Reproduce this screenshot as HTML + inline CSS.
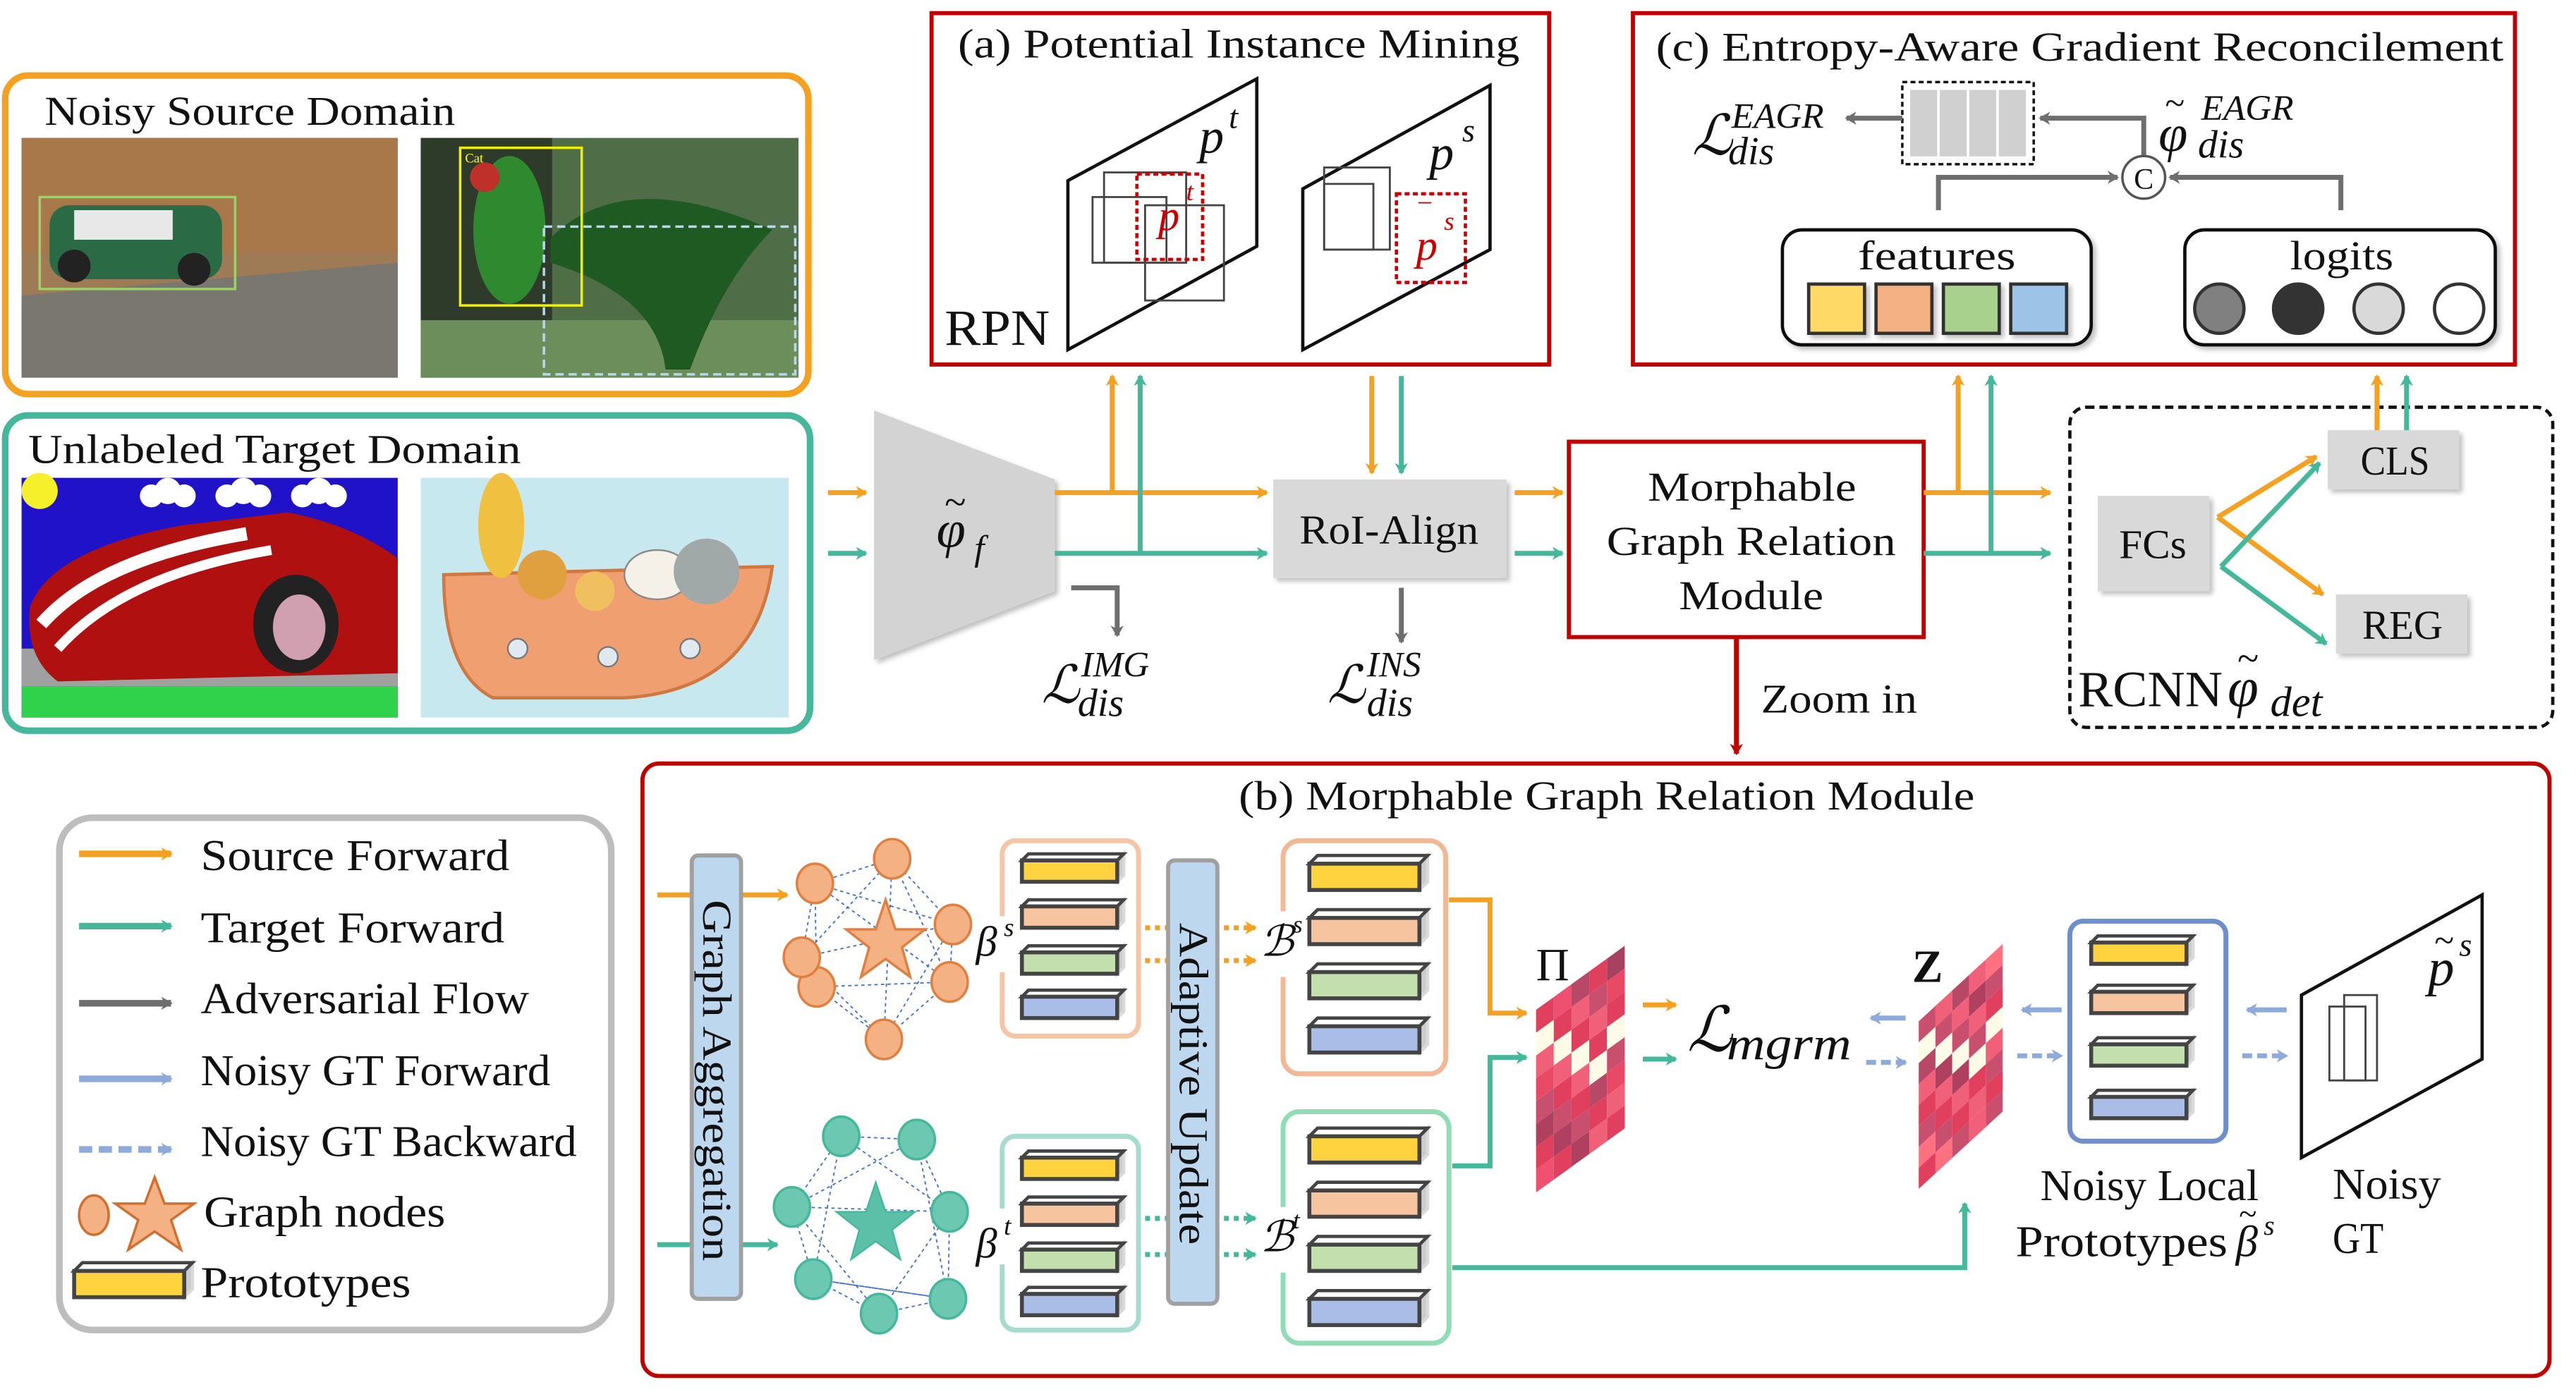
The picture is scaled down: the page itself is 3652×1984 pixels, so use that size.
<!DOCTYPE html>
<html><head><meta charset="utf-8"><style>
html,body{margin:0;padding:0;background:#fff;}
svg{display:block;}
text{font-family:"Liberation Serif",serif;fill:#111;}
.it{font-style:italic;}
</style></head><body>
<svg width="3652" height="1984" viewBox="0 0 1568 852" xmlns="http://www.w3.org/2000/svg">
<defs>
<marker id="ao" markerWidth="8" markerHeight="8" refX="6" refY="4" orient="auto" markerUnits="userSpaceOnUse" viewBox="0 0 8 8"><path d="M0,0 L7,4 L0,8 L2,4z" fill="#f4a020"/></marker>
<marker id="at" markerWidth="8" markerHeight="8" refX="6" refY="4" orient="auto" markerUnits="userSpaceOnUse" viewBox="0 0 8 8"><path d="M0,0 L7,4 L0,8 L2,4z" fill="#45b89c"/></marker>
<marker id="ag" markerWidth="8" markerHeight="8" refX="6" refY="4" orient="auto" markerUnits="userSpaceOnUse" viewBox="0 0 8 8"><path d="M0,0 L7,4 L0,8 L2,4z" fill="#6e6e6e"/></marker>
<marker id="ab" markerWidth="8" markerHeight="8" refX="6" refY="4" orient="auto" markerUnits="userSpaceOnUse" viewBox="0 0 8 8"><path d="M0,0 L7,4 L0,8 L2,4z" fill="#8eaadb"/></marker>
<marker id="ar" markerWidth="8" markerHeight="8" refX="6" refY="4" orient="auto" markerUnits="userSpaceOnUse" viewBox="0 0 8 8"><path d="M0,0 L7,4 L0,8 L2,4z" fill="#c00000"/></marker>
<g id="proto">
<polygon points="0,4 4,0 62,0 58,4" fill="#fff" opacity="0.35"/>
<polygon points="0,4 4,0 62,0 58,4" stroke="#444" stroke-width="2" fill="none"/>
<rect x="0" y="4" width="58" height="13" stroke="#444" stroke-width="2.4"/>
<polygon points="58,4 62,0 62,13 58,17" fill="#000" opacity="0.2" stroke="#444" stroke-width="2"/>
</g>
<g id="protoB">
<polygon points="0,5 5,0 72,0 67,5" fill="#fff" opacity="0.35"/>
<polygon points="0,5 5,0 72,0 67,5" stroke="#444" stroke-width="2" fill="none"/>
<rect x="0" y="5" width="67" height="16" stroke="#444" stroke-width="2.4"/>
<polygon points="67,5 72,0 72,16 67,21" fill="#000" opacity="0.2" stroke="#444" stroke-width="2"/>
</g>
<filter id="sh" x="-10%" y="-10%" width="130%" height="130%"><feDropShadow dx="2" dy="2" stdDeviation="1.5" flood-color="#000" flood-opacity="0.25"/></filter>
</defs>

<!-- Noisy Source Domain -->
<rect x="3" y="46" width="489" height="194" rx="14" fill="#fff" stroke="#f4a020" stroke-width="4"/>
<text x="27" y="76" font-size="25" textLength="250" lengthAdjust="spacingAndGlyphs">Noisy Source Domain</text>
<rect x="13" y="84" width="229" height="146" fill="#9e7a55"/>
<rect x="13" y="84" width="229" height="70" fill="#a8784a"/>
<polygon points="13,180 242,160 242,230 13,230" fill="#7a7670"/>
<rect x="30" y="125" width="105" height="45" rx="12" fill="#2a6a45"/>
<rect x="45" y="128" width="60" height="18" fill="#e8e8e8"/>
<circle cx="45" cy="162" r="10" fill="#222"/><circle cx="118" cy="164" r="10" fill="#222"/>
<rect x="24" y="120" width="119" height="56" fill="none" stroke="#9ecf6a" stroke-width="1.5"/>
<rect x="256" y="84" width="230" height="146" fill="#4f6e48"/>
<rect x="256" y="84" width="80" height="146" fill="#2e3a2a"/>
<rect x="256" y="195" width="230" height="35" fill="#6c8e5a"/>
<ellipse cx="310" cy="140" rx="22" ry="45" fill="#2f8a2f"/>
<circle cx="295" cy="108" r="9" fill="#c0302a"/>
<path d="M335,145 Q380,100 470,140 Q440,170 420,225 L405,225 Q400,180 335,160z" fill="#1f5a22"/>
<rect x="280" y="90" width="74" height="96" fill="none" stroke="#f0f000" stroke-width="1.5"/>
<rect x="331" y="138" width="153" height="90" fill="none" stroke="#b8d8e8" stroke-width="1.5" stroke-dasharray="5,3"/>
<text x="283" y="99" font-size="8" style="fill:#ff0">Cat</text>

<!-- Unlabeled Target Domain -->
<rect x="3" y="253" width="490" height="192" rx="14" fill="#fff" stroke="#45b89c" stroke-width="4"/>
<text x="17" y="282" font-size="25" textLength="300" lengthAdjust="spacingAndGlyphs">Unlabeled Target Domain</text>
<rect x="13" y="291" width="229" height="146" fill="#1f12c8"/>
<rect x="13" y="418" width="229" height="19" fill="#2fd24a"/>
<rect x="13" y="395" width="229" height="23" fill="#a0a0a0"/>
<circle cx="24" cy="299" r="11" fill="#f6f02a"/>
<g fill="#fff"><circle cx="92" cy="302" r="7"/><circle cx="102" cy="299" r="8"/><circle cx="112" cy="302" r="7"/><circle cx="138" cy="302" r="7"/><circle cx="148" cy="299" r="8"/><circle cx="158" cy="302" r="7"/><circle cx="184" cy="302" r="7"/><circle cx="194" cy="299" r="8"/><circle cx="204" cy="302" r="7"/></g>
<path d="M18,370 Q30,335 110,320 L175,312 Q215,320 242,340 L242,410 L35,415 Q15,400 18,370z" fill="#b01010"/>
<path d="M25,380 Q60,340 150,325" stroke="#fff" stroke-width="8" fill="none"/>
<path d="M35,395 Q75,350 165,335" stroke="#fff" stroke-width="6" fill="none"/>
<ellipse cx="180" cy="380" rx="26" ry="30" fill="#222"/><ellipse cx="182" cy="382" rx="16" ry="20" fill="#d0a0b0"/>
<rect x="256" y="291" width="224" height="146" fill="#c8e8f0"/>
<path d="M270,350 L470,345 Q460,420 380,425 L300,425 Q270,410 270,350z" fill="#f0a070" stroke="#d07840" stroke-width="2"/>
<ellipse cx="305" cy="320" rx="14" ry="32" fill="#f0c040"/>
<circle cx="330" cy="350" r="15" fill="#e0a040"/><circle cx="362" cy="360" r="12" fill="#f0c060"/>
<ellipse cx="400" cy="350" rx="20" ry="15" fill="#f5f0e8" stroke="#888"/>
<ellipse cx="430" cy="348" rx="20" ry="20" fill="#a0a8a8"/>
<g fill="#e0e8f0" stroke="#777"><circle cx="315" cy="395" r="6"/><circle cx="370" cy="400" r="6"/><circle cx="420" cy="395" r="6"/></g>

<!-- input arrows -->
<line x1="504" y1="300" x2="527" y2="300" stroke="#f4a020" stroke-width="3" marker-end="url(#ao)"/>
<line x1="504" y1="337" x2="527" y2="337" stroke="#45b89c" stroke-width="3" marker-end="url(#at)"/>

<!-- encoder -->
<polygon points="532,250 642,292 642,360 532,402" fill="#d3d3d3" filter="url(#sh)"/>
<text x="570" y="333" font-size="32" class="it">φ</text><text x="575" y="314" font-size="24">~</text><text x="593" y="341" font-size="22" class="it">f</text>

<!-- lines to RoI -->
<line x1="642" y1="300" x2="771" y2="300" stroke="#f4a020" stroke-width="3" marker-end="url(#ao)"/>
<line x1="642" y1="337" x2="771" y2="337" stroke="#45b89c" stroke-width="3" marker-end="url(#at)"/>
<line x1="677" y1="300" x2="677" y2="229" stroke="#f4a020" stroke-width="3" marker-end="url(#ao)"/>
<line x1="694" y1="337" x2="694" y2="229" stroke="#45b89c" stroke-width="3" marker-end="url(#at)"/>
<polyline points="652,358 680,358 680,387" fill="none" stroke="#6e6e6e" stroke-width="3" marker-end="url(#ag)"/>
<text x="634" y="428" font-size="32" class="it">ℒ</text><text x="658" y="412" font-size="22" class="it">IMG</text><text x="656" y="436" font-size="24" class="it">dis</text>

<!-- panel a -->
<rect x="567" y="8" width="376" height="214" fill="#fff" stroke="#c00000" stroke-width="2.5"/>
<text x="583" y="35" font-size="25" textLength="342" lengthAdjust="spacingAndGlyphs">(a) Potential Instance Mining</text>
<text x="575" y="210" font-size="31" textLength="64" lengthAdjust="spacingAndGlyphs">RPN</text>
<polygon points="650,213 650,110 765,48 765,150" fill="#fff" stroke="#111" stroke-width="2"/>
<rect x="672" y="105" width="50" height="55" fill="none" stroke="#444" stroke-width="1.2"/>
<rect x="697" y="125" width="48" height="58" fill="none" stroke="#444" stroke-width="1.2"/>
<rect x="665" y="120" width="45" height="40" fill="none" stroke="#444" stroke-width="1.2"/>
<rect x="692" y="106" width="40" height="52" fill="none" stroke="#cc0000" stroke-width="2" stroke-dasharray="3,2"/>
<text x="705" y="140" font-size="26" class="it" style="fill:#cc0000">p</text><text x="707" y="121" font-size="20" style="fill:#cc0000">‾</text><text x="722" y="122" font-size="16" class="it" style="fill:#cc0000">t</text>
<text x="730" y="93" font-size="30" class="it">p</text><text x="748" y="78" font-size="20" class="it">t</text>
<polygon points="793,213 793,115 907,52 907,152" fill="#fff" stroke="#111" stroke-width="2"/>
<rect x="806" y="102" width="40" height="50" fill="none" stroke="#444" stroke-width="1.2"/>
<rect x="806" y="112" width="30" height="40" fill="none" stroke="#444" stroke-width="1.2"/>
<rect x="850" y="118" width="42" height="54" fill="none" stroke="#cc0000" stroke-width="2" stroke-dasharray="3,2"/>
<text x="862" y="158" font-size="26" class="it" style="fill:#cc0000">p</text><text x="864" y="139" font-size="20" style="fill:#cc0000">‾</text><text x="879" y="140" font-size="16" class="it" style="fill:#cc0000">s</text>
<text x="870" y="103" font-size="30" class="it">p</text><text x="890" y="86" font-size="20" class="it">s</text>

<line x1="835" y1="229" x2="835" y2="288" stroke="#f4a020" stroke-width="3" marker-end="url(#ao)"/>
<line x1="853" y1="229" x2="853" y2="288" stroke="#45b89c" stroke-width="3" marker-end="url(#at)"/>

<!-- RoI Align -->
<rect x="775" y="292" width="142" height="60" fill="#d9d9d9" filter="url(#sh)"/>
<text x="791" y="331" font-size="25" textLength="109" lengthAdjust="spacingAndGlyphs">RoI-Align</text>
<line x1="853" y1="358" x2="853" y2="391" stroke="#6e6e6e" stroke-width="3" marker-end="url(#ag)"/>
<text x="808" y="428" font-size="32" class="it">ℒ</text><text x="832" y="412" font-size="22" class="it">INS</text><text x="832" y="436" font-size="24" class="it">dis</text>

<line x1="922" y1="300" x2="951" y2="300" stroke="#f4a020" stroke-width="3" marker-end="url(#ao)"/>
<line x1="922" y1="337" x2="951" y2="337" stroke="#45b89c" stroke-width="3" marker-end="url(#at)"/>

<!-- MGRM -->
<rect x="955" y="269" width="216" height="119" fill="#fff" stroke="#c00000" stroke-width="2.5"/>
<text x="1003" y="305" font-size="25" textLength="127" lengthAdjust="spacingAndGlyphs">Morphable</text>
<text x="978" y="338" font-size="25" textLength="176" lengthAdjust="spacingAndGlyphs">Graph Relation</text>
<text x="1022" y="371" font-size="25" textLength="88" lengthAdjust="spacingAndGlyphs">Module</text>
<line x1="1057" y1="388" x2="1057" y2="459" stroke="#c00000" stroke-width="3" marker-end="url(#ar)"/>
<text x="1072" y="434" font-size="25" textLength="95" lengthAdjust="spacingAndGlyphs">Zoom in</text>

<line x1="1171" y1="300" x2="1248" y2="300" stroke="#f4a020" stroke-width="3" marker-end="url(#ao)"/>
<line x1="1171" y1="337" x2="1248" y2="337" stroke="#45b89c" stroke-width="3" marker-end="url(#at)"/>
<line x1="1192" y1="300" x2="1192" y2="229" stroke="#f4a020" stroke-width="3" marker-end="url(#ao)"/>
<line x1="1212" y1="337" x2="1212" y2="229" stroke="#45b89c" stroke-width="3" marker-end="url(#at)"/>

<!-- panel c -->
<rect x="994" y="8" width="537" height="214" fill="#fff" stroke="#c00000" stroke-width="2.5"/>
<text x="1008" y="37" font-size="25" textLength="516" lengthAdjust="spacingAndGlyphs">(c) Entropy-Aware  Gradient Reconcilement</text>
<rect x="1158" y="50" width="80" height="50" fill="#fff" stroke="#111" stroke-width="1.5" stroke-dasharray="3,2"/>
<g fill="#d0d0d0" stroke="#fff" stroke-width="1.5"><rect x="1162" y="54" width="18" height="42"/><rect x="1180" y="54" width="18" height="42"/><rect x="1198" y="54" width="18" height="42"/><rect x="1216" y="54" width="18" height="42"/></g>
<line x1="1158" y1="72" x2="1124" y2="72" stroke="#6e6e6e" stroke-width="3" marker-end="url(#ag)"/>
<text x="1030" y="94" font-size="34" class="it">ℒ</text><text x="1054" y="78" font-size="22" class="it">EAGR</text><text x="1052" y="100" font-size="24" class="it">dis</text>
<polyline points="1305,95 1305,72 1242,72" fill="none" stroke="#6e6e6e" stroke-width="3" marker-end="url(#ag)"/>
<circle cx="1305" cy="108" r="13" fill="#fff" stroke="#555" stroke-width="1.5"/>
<text x="1305" y="115" font-size="18" text-anchor="middle" font-family="Liberation Sans">C</text>
<text x="1314" y="92" font-size="32" class="it">φ</text><text x="1318" y="70" font-size="22">~</text><text x="1340" y="73" font-size="22" class="it">EAGR</text><text x="1338" y="96" font-size="24" class="it">dis</text>
<polyline points="1180,128 1180,108 1289,108" fill="none" stroke="#6e6e6e" stroke-width="3" marker-end="url(#ag)"/>
<polyline points="1425,128 1425,108 1321,108" fill="none" stroke="#6e6e6e" stroke-width="3" marker-end="url(#ag)"/>
<rect x="1085" y="140" width="188" height="70" rx="12" fill="#fff" stroke="#111" stroke-width="2" filter="url(#sh)"/>
<text x="1131" y="164" font-size="25" textLength="96" lengthAdjust="spacingAndGlyphs">features</text>
<g stroke="#333" stroke-width="2" filter="url(#sh)"><rect x="1101" y="173" width="34" height="30" fill="#ffd966"/><rect x="1142" y="173" width="34" height="30" fill="#f4b183"/><rect x="1183" y="173" width="34" height="30" fill="#a9d18e"/><rect x="1224" y="173" width="34" height="30" fill="#9dc3e6"/></g>
<rect x="1330" y="140" width="189" height="70" rx="12" fill="#fff" stroke="#111" stroke-width="2" filter="url(#sh)"/>
<text x="1394" y="164" font-size="25" textLength="63" lengthAdjust="spacingAndGlyphs">logits</text>
<g stroke="#333" stroke-width="2"><circle cx="1351" cy="188" r="15" fill="#808080"/><circle cx="1399" cy="188" r="15" fill="#333"/><circle cx="1448" cy="188" r="15" fill="#d9d9d9"/><circle cx="1497" cy="188" r="15" fill="#fff"/></g>

<!-- RCNN -->
<rect x="1260" y="248" width="294" height="195" rx="10" fill="#fff" stroke="#111" stroke-width="2" stroke-dasharray="5,3"/>
<rect x="1277" y="302" width="68" height="58" fill="#d9d9d9" filter="url(#sh)"/>
<text x="1290" y="340" font-size="25" textLength="41" lengthAdjust="spacingAndGlyphs">FCs</text>
<rect x="1417" y="262" width="80" height="36" fill="#d9d9d9" filter="url(#sh)"/>
<text x="1437" y="289" font-size="25" textLength="42" lengthAdjust="spacingAndGlyphs">CLS</text>
<rect x="1422" y="362" width="80" height="36" fill="#d9d9d9" filter="url(#sh)"/>
<text x="1438" y="389" font-size="25" textLength="49" lengthAdjust="spacingAndGlyphs">REG</text>
<line x1="1350" y1="315" x2="1410" y2="278" stroke="#f4a020" stroke-width="3" marker-end="url(#ao)"/>
<line x1="1350" y1="315" x2="1414" y2="362" stroke="#f4a020" stroke-width="3" marker-end="url(#ao)"/>
<line x1="1352" y1="345" x2="1412" y2="282" stroke="#45b89c" stroke-width="3" marker-end="url(#at)"/>
<line x1="1352" y1="345" x2="1416" y2="392" stroke="#45b89c" stroke-width="3" marker-end="url(#at)"/>
<line x1="1447" y1="262" x2="1447" y2="229" stroke="#f4a020" stroke-width="3" marker-end="url(#ao)"/>
<line x1="1465" y1="262" x2="1465" y2="229" stroke="#45b89c" stroke-width="3" marker-end="url(#at)"/>
<text x="1265" y="430" font-size="31" textLength="88" lengthAdjust="spacingAndGlyphs">RCNN</text>
<text x="1356" y="430" font-size="34" class="it">φ</text><text x="1362" y="409" font-size="24">~</text><text x="1382" y="436" font-size="26" class="it">det</text>

<!-- panel b -->
<rect x="391" y="465" width="1161" height="373" rx="10" fill="#fff" stroke="#c00000" stroke-width="2.5"/>
<text x="754" y="493" font-size="25" textLength="448" lengthAdjust="spacingAndGlyphs">(b) Morphable Graph Relation Module</text>

<!-- legend -->
<rect x="36" y="498" width="336" height="312" rx="20" fill="#fff" stroke="#bdbdbd" stroke-width="4"/>
<line x1="48" y1="520" x2="104" y2="520" stroke="#f4a020" stroke-width="4" marker-end="url(#ao)"/>
<line x1="48" y1="564" x2="104" y2="564" stroke="#45b89c" stroke-width="4" marker-end="url(#at)"/>
<line x1="48" y1="611" x2="104" y2="611" stroke="#6e6e6e" stroke-width="4" marker-end="url(#ag)"/>
<line x1="48" y1="657" x2="104" y2="657" stroke="#8eaadb" stroke-width="4" marker-end="url(#ab)"/>
<line x1="48" y1="700" x2="104" y2="700" stroke="#8eaadb" stroke-width="4" stroke-dasharray="8,4" marker-end="url(#ab)"/>
<g font-size="27">
<text x="122" y="530" textLength="188" lengthAdjust="spacingAndGlyphs">Source Forward</text>
<text x="122" y="574" textLength="185" lengthAdjust="spacingAndGlyphs">Target Forward</text>
<text x="122" y="617" textLength="200" lengthAdjust="spacingAndGlyphs">Adversarial Flow</text>
<text x="122" y="661" textLength="213" lengthAdjust="spacingAndGlyphs">Noisy GT Forward</text>
<text x="122" y="704" textLength="229" lengthAdjust="spacingAndGlyphs">Noisy GT Backward</text>
<text x="124" y="747" textLength="147" lengthAdjust="spacingAndGlyphs">Graph nodes</text>
<text x="122" y="790" textLength="128" lengthAdjust="spacingAndGlyphs">Prototypes</text>
</g>
<ellipse cx="57" cy="740" rx="9" ry="12" fill="#f4b183" stroke="#d07030" stroke-width="1.5"/>
<polygon points="94,717 100,733 118,733 104,743 110,761 94,750 78,761 84,743 70,733 88,733" fill="#f4b183" stroke="#d07030" stroke-width="1.5"/>
<use href="#protoB" x="45" y="769" fill="#ffd23f"/>

<!-- graph aggregation bar -->
<line x1="400" y1="545" x2="479" y2="545" stroke="#f4a020" stroke-width="3" marker-end="url(#ao)"/>
<line x1="400" y1="758" x2="473" y2="758" stroke="#45b89c" stroke-width="3" marker-end="url(#at)"/>
<rect x="421" y="521" width="30" height="270" rx="4" fill="#bdd7ee" stroke="#a0a0a0" stroke-width="2.5"/>
<text transform="translate(428,548) rotate(90)" font-size="25" textLength="220" lengthAdjust="spacingAndGlyphs">Graph Aggregation</text>

<!-- source graph -->
<g stroke="#4472c4" stroke-width="0.8" stroke-dasharray="2,2" fill="none">
<path d="M496,538 L543,523 L580,563 L578,598 L538,633 L497,601 L488,583 Z M496,538 L580,563 L538,633 L488,583 L543,523 L578,598 L497,601 L496,538 M543,523 L538,633 M488,583 L580,563 M496,538 L578,598"/>
</g>
<g fill="#f4b183" stroke="#e08040" stroke-width="1.5">
<ellipse cx="496" cy="538" rx="11" ry="12"/><ellipse cx="543" cy="523" rx="11" ry="12"/><ellipse cx="580" cy="563" rx="11" ry="12"/><ellipse cx="578" cy="598" rx="11" ry="12"/><ellipse cx="538" cy="633" rx="11" ry="12"/><ellipse cx="497" cy="601" rx="11" ry="12"/><ellipse cx="488" cy="583" rx="11" ry="12"/>
</g>
<polygon points="539,548 545,566 563,566 549,577 554,595 539,584 524,595 529,577 515,566 533,566" fill="#f4b183" stroke="#e08040" stroke-width="1.5"/>
<!-- target graph -->
<g stroke="#4472c4" stroke-width="0.8" stroke-dasharray="2,2" fill="none">
<path d="M512,692 L558,694 L578,738 L577,791 L535,800 L495,779 L482,735 Z M512,692 L578,738 L535,800 L482,735 L558,694 L577,791 L495,779 L512,692 M495,779 L577,791 M482,735 L578,738"/>
</g>
<g fill="#6cc8b0" stroke="#45b89c" stroke-width="1.5">
<ellipse cx="512" cy="692" rx="11" ry="12"/><ellipse cx="558" cy="694" rx="11" ry="12"/><ellipse cx="578" cy="738" rx="11" ry="12"/><ellipse cx="577" cy="791" rx="11" ry="12"/><ellipse cx="535" cy="800" rx="11" ry="12"/><ellipse cx="495" cy="779" rx="11" ry="12"/><ellipse cx="482" cy="735" rx="11" ry="12"/>
</g>
<polygon points="533,720 539,738 557,738 543,749 548,767 533,756 518,767 523,749 509,738 527,738" fill="#5cc0a8" stroke="#45b89c" stroke-width="1"/>

<!-- small proto boxes -->
<rect x="610" y="512" width="83" height="119" rx="8" fill="#fff" stroke="#f4c6a6" stroke-width="3"/>
<rect x="596" y="558" width="22" height="34" fill="#fff"/>
<text x="594" y="582" font-size="26" class="it">β</text><text x="611" y="570" font-size="16" class="it">s</text>
<use href="#proto" x="622" y="520" fill="#ffd23f"/>
<use href="#proto" x="622" y="548" fill="#f7c4a0"/>
<use href="#proto" x="622" y="576" fill="#c2dfad"/>
<use href="#proto" x="622" y="603" fill="#a9bde6"/>
<rect x="610" y="692" width="83" height="118" rx="8" fill="#fff" stroke="#a6dccd" stroke-width="3"/>
<rect x="596" y="736" width="22" height="34" fill="#fff"/>
<text x="594" y="766" font-size="26" class="it">β</text><text x="611" y="752" font-size="16" class="it">t</text>
<use href="#proto" x="622" y="701" fill="#ffd23f"/>
<use href="#proto" x="622" y="729" fill="#f7c4a0"/>
<use href="#proto" x="622" y="757" fill="#c2dfad"/>
<use href="#proto" x="622" y="784" fill="#a9bde6"/>

<!-- dotted arrows -->
<g stroke-width="3" stroke-dasharray="3,3">
<line x1="697" y1="565" x2="764" y2="565" stroke="#f4a020" marker-end="url(#ao)"/>
<line x1="697" y1="585" x2="764" y2="585" stroke="#f4a020" marker-end="url(#ao)"/>
<line x1="697" y1="742" x2="764" y2="742" stroke="#45b89c" marker-end="url(#at)"/>
<line x1="697" y1="764" x2="764" y2="764" stroke="#45b89c" marker-end="url(#at)"/>
</g>
<rect x="711" y="524" width="30" height="270" rx="4" fill="#bdd7ee" stroke="#a0a0a0" stroke-width="2.5"/>
<text transform="translate(718,562) rotate(90)" font-size="25" textLength="196" lengthAdjust="spacingAndGlyphs">Adaptive Update</text>

<!-- big proto boxes -->
<rect x="781" y="512" width="99" height="142" rx="10" fill="#fff" stroke="#f0b896" stroke-width="3"/>
<rect x="766" y="555" width="24" height="40" fill="#fff"/>
<text x="767" y="582" font-size="26" class="it">ℬ</text><text x="787" y="568" font-size="15" class="it">s</text>
<use href="#protoB" x="797" y="521" fill="#ffd23f"/>
<use href="#protoB" x="797" y="554" fill="#f7c4a0"/>
<use href="#protoB" x="797" y="587" fill="#c2dfad"/>
<use href="#protoB" x="797" y="620" fill="#a9bde6"/>
<rect x="781" y="677" width="101" height="141" rx="10" fill="#fff" stroke="#90dcb6" stroke-width="3"/>
<rect x="766" y="735" width="24" height="40" fill="#fff"/>
<text x="767" y="762" font-size="26" class="it">ℬ</text><text x="787" y="748" font-size="15" class="it">t</text>
<use href="#protoB" x="797" y="687" fill="#ffd23f"/>
<use href="#protoB" x="797" y="720" fill="#f7c4a0"/>
<use href="#protoB" x="797" y="753" fill="#c2dfad"/>
<use href="#protoB" x="797" y="786" fill="#a9bde6"/>

<polyline points="882,548 907,548 907,617 929,617" fill="none" stroke="#f4a020" stroke-width="3" marker-end="url(#ao)"/>
<polyline points="884,710 907,710 907,644 929,644" fill="none" stroke="#45b89c" stroke-width="3" marker-end="url(#at)"/>
<polyline points="884,772 1196,772 1196,733" fill="none" stroke="#45b89c" stroke-width="3" marker-end="url(#at)"/>

<!-- heatmap Pi -->
<g transform="matrix(10.8,-7.8,0,13.9,935,615)" stroke="none">
<rect x="0" y="0" width="1" height="1" fill="#e0405e"/><rect x="1" y="0" width="1" height="1" fill="#f05070"/><rect x="2" y="0" width="1" height="1" fill="#b84868"/><rect x="3" y="0" width="1" height="1" fill="#e0405e"/><rect x="4" y="0" width="1" height="1" fill="#a84060"/>
<rect x="0" y="1" width="1" height="1" fill="#fffbe8"/><rect x="1" y="1" width="1" height="1" fill="#e0405e"/><rect x="2" y="1" width="1" height="1" fill="#f06078"/><rect x="3" y="1" width="1" height="1" fill="#c8506e"/><rect x="4" y="1" width="1" height="1" fill="#e84a66"/>
<rect x="0" y="2" width="1" height="1" fill="#f06078"/><rect x="1" y="2" width="1" height="1" fill="#fffbe8"/><rect x="2" y="2" width="1" height="1" fill="#e0405e"/><rect x="3" y="2" width="1" height="1" fill="#f06078"/><rect x="4" y="2" width="1" height="1" fill="#e0405e"/>
<rect x="0" y="3" width="1" height="1" fill="#e84a66"/><rect x="1" y="3" width="1" height="1" fill="#f06078"/><rect x="2" y="3" width="1" height="1" fill="#fffbe8"/><rect x="3" y="3" width="1" height="1" fill="#e0405e"/><rect x="4" y="3" width="1" height="1" fill="#fffbe8"/>
<rect x="0" y="4" width="1" height="1" fill="#c8506e"/><rect x="1" y="4" width="1" height="1" fill="#e0405e"/><rect x="2" y="4" width="1" height="1" fill="#f06078"/><rect x="3" y="4" width="1" height="1" fill="#fffbe8"/><rect x="4" y="4" width="1" height="1" fill="#c8506e"/>
<rect x="0" y="5" width="1" height="1" fill="#b04060"/><rect x="1" y="5" width="1" height="1" fill="#c8506e"/><rect x="2" y="5" width="1" height="1" fill="#e0405e"/><rect x="3" y="5" width="1" height="1" fill="#b84868"/><rect x="4" y="5" width="1" height="1" fill="#e84a66"/>
<rect x="0" y="6" width="1" height="1" fill="#e0405e"/><rect x="1" y="6" width="1" height="1" fill="#b04060"/><rect x="2" y="6" width="1" height="1" fill="#c8506e"/><rect x="3" y="6" width="1" height="1" fill="#e0405e"/><rect x="4" y="6" width="1" height="1" fill="#f06078"/>
<rect x="0" y="7" width="1" height="1" fill="#f05070"/><rect x="1" y="7" width="1" height="1" fill="#e0405e"/><rect x="2" y="7" width="1" height="1" fill="#b04060"/><rect x="3" y="7" width="1" height="1" fill="#f06078"/><rect x="4" y="7" width="1" height="1" fill="#e0405e"/>
</g>
<text x="935" y="597" font-size="28">Π</text>
<line x1="1000" y1="612" x2="1020" y2="612" stroke="#f4a020" stroke-width="3" marker-end="url(#ao)"/>
<line x1="1000" y1="645" x2="1020" y2="645" stroke="#45b89c" stroke-width="3" marker-end="url(#at)"/>
<text x="1027" y="640" font-size="38" class="it">ℒ</text><text x="1051" y="645" font-size="28" class="it" textLength="76" lengthAdjust="spacingAndGlyphs">mgrm</text>
<line x1="1160" y1="620" x2="1139" y2="620" stroke="#8eaadb" stroke-width="3" marker-end="url(#ab)"/>
<line x1="1136" y1="647" x2="1160" y2="647" stroke="#8eaadb" stroke-width="3" stroke-dasharray="6,3" marker-end="url(#ab)"/>

<!-- heatmap Z -->
<g transform="matrix(10.2,-9.4,0,12.75,1168,622)" stroke="none">
<rect x="0" y="0" width="1" height="1" fill="#c8506e"/><rect x="1" y="0" width="1" height="1" fill="#f06078"/><rect x="2" y="0" width="1" height="1" fill="#b84868"/><rect x="3" y="0" width="1" height="1" fill="#f06078"/><rect x="4" y="0" width="1" height="1" fill="#ff7080"/>
<rect x="0" y="1" width="1" height="1" fill="#fffbe8"/><rect x="1" y="1" width="1" height="1" fill="#c8506e"/><rect x="2" y="1" width="1" height="1" fill="#f06078"/><rect x="3" y="1" width="1" height="1" fill="#b04060"/><rect x="4" y="1" width="1" height="1" fill="#c8506e"/>
<rect x="0" y="2" width="1" height="1" fill="#b84868"/><rect x="1" y="2" width="1" height="1" fill="#fffbe8"/><rect x="2" y="2" width="1" height="1" fill="#c8506e"/><rect x="3" y="2" width="1" height="1" fill="#f06078"/><rect x="4" y="2" width="1" height="1" fill="#e0405e"/>
<rect x="0" y="3" width="1" height="1" fill="#f06078"/><rect x="1" y="3" width="1" height="1" fill="#b04060"/><rect x="2" y="3" width="1" height="1" fill="#fffbe8"/><rect x="3" y="3" width="1" height="1" fill="#c8506e"/><rect x="4" y="3" width="1" height="1" fill="#fffbe8"/>
<rect x="0" y="4" width="1" height="1" fill="#e0405e"/><rect x="1" y="4" width="1" height="1" fill="#f06078"/><rect x="2" y="4" width="1" height="1" fill="#b04060"/><rect x="3" y="4" width="1" height="1" fill="#fffbe8"/><rect x="4" y="4" width="1" height="1" fill="#f06078"/>
<rect x="0" y="5" width="1" height="1" fill="#c8506e"/><rect x="1" y="5" width="1" height="1" fill="#e0405e"/><rect x="2" y="5" width="1" height="1" fill="#f06078"/><rect x="3" y="5" width="1" height="1" fill="#e0405e"/><rect x="4" y="5" width="1" height="1" fill="#c8506e"/>
<rect x="0" y="6" width="1" height="1" fill="#ff7080"/><rect x="1" y="6" width="1" height="1" fill="#c8506e"/><rect x="2" y="6" width="1" height="1" fill="#e0405e"/><rect x="3" y="6" width="1" height="1" fill="#f06078"/><rect x="4" y="6" width="1" height="1" fill="#e0405e"/>
<rect x="0" y="7" width="1" height="1" fill="#e0405e"/><rect x="1" y="7" width="1" height="1" fill="#ff7080"/><rect x="2" y="7" width="1" height="1" fill="#c8506e"/><rect x="3" y="7" width="1" height="1" fill="#f06078"/><rect x="4" y="7" width="1" height="1" fill="#c8506e"/>
</g>
<text x="1164" y="598" font-size="28" font-weight="bold">Z</text>
<line x1="1255" y1="615" x2="1231" y2="615" stroke="#8eaadb" stroke-width="3" marker-end="url(#ab)"/>
<line x1="1228" y1="643" x2="1255" y2="643" stroke="#8eaadb" stroke-width="3" stroke-dasharray="6,3" marker-end="url(#ab)"/>

<!-- noisy local prototypes -->
<rect x="1260" y="561" width="95" height="134" rx="8" fill="#fff" stroke="#6e8fcc" stroke-width="3"/>
<use href="#proto" x="1273" y="570" fill="#ffd23f"/>
<use href="#proto" x="1273" y="600" fill="#f7c4a0"/>
<use href="#proto" x="1273" y="632" fill="#c2dfad"/>
<use href="#proto" x="1273" y="664" fill="#a9bde6"/>
<text x="1242" y="731" font-size="27" textLength="133" lengthAdjust="spacingAndGlyphs">Noisy Local</text>
<text x="1227" y="765" font-size="27" textLength="129" lengthAdjust="spacingAndGlyphs">Prototypes</text>
<text x="1361" y="765" font-size="27" class="it">β</text><text x="1363" y="746" font-size="20">~</text><text x="1378" y="752" font-size="17" class="it">s</text>
<line x1="1392" y1="615" x2="1368" y2="615" stroke="#8eaadb" stroke-width="3" marker-end="url(#ab)"/>
<line x1="1365" y1="643" x2="1392" y2="643" stroke="#8eaadb" stroke-width="3" stroke-dasharray="6,3" marker-end="url(#ab)"/>

<!-- noisy GT -->
<polygon points="1401,705 1401,606 1511,545 1511,645" fill="#fff" stroke="#111" stroke-width="2"/>
<rect x="1418" y="613" width="22" height="45" fill="none" stroke="#444" stroke-width="1.2"/>
<rect x="1427" y="606" width="20" height="52" fill="none" stroke="#444" stroke-width="1.2"/>
<text x="1478" y="600" font-size="32" class="it">p</text><text x="1482" y="580" font-size="22">~</text><text x="1497" y="582" font-size="20" class="it">s</text>
<text x="1420" y="730" font-size="27" textLength="66" lengthAdjust="spacingAndGlyphs">Noisy</text>
<text x="1420" y="763" font-size="27" textLength="31" lengthAdjust="spacingAndGlyphs">GT</text>
</svg>
</body></html>
